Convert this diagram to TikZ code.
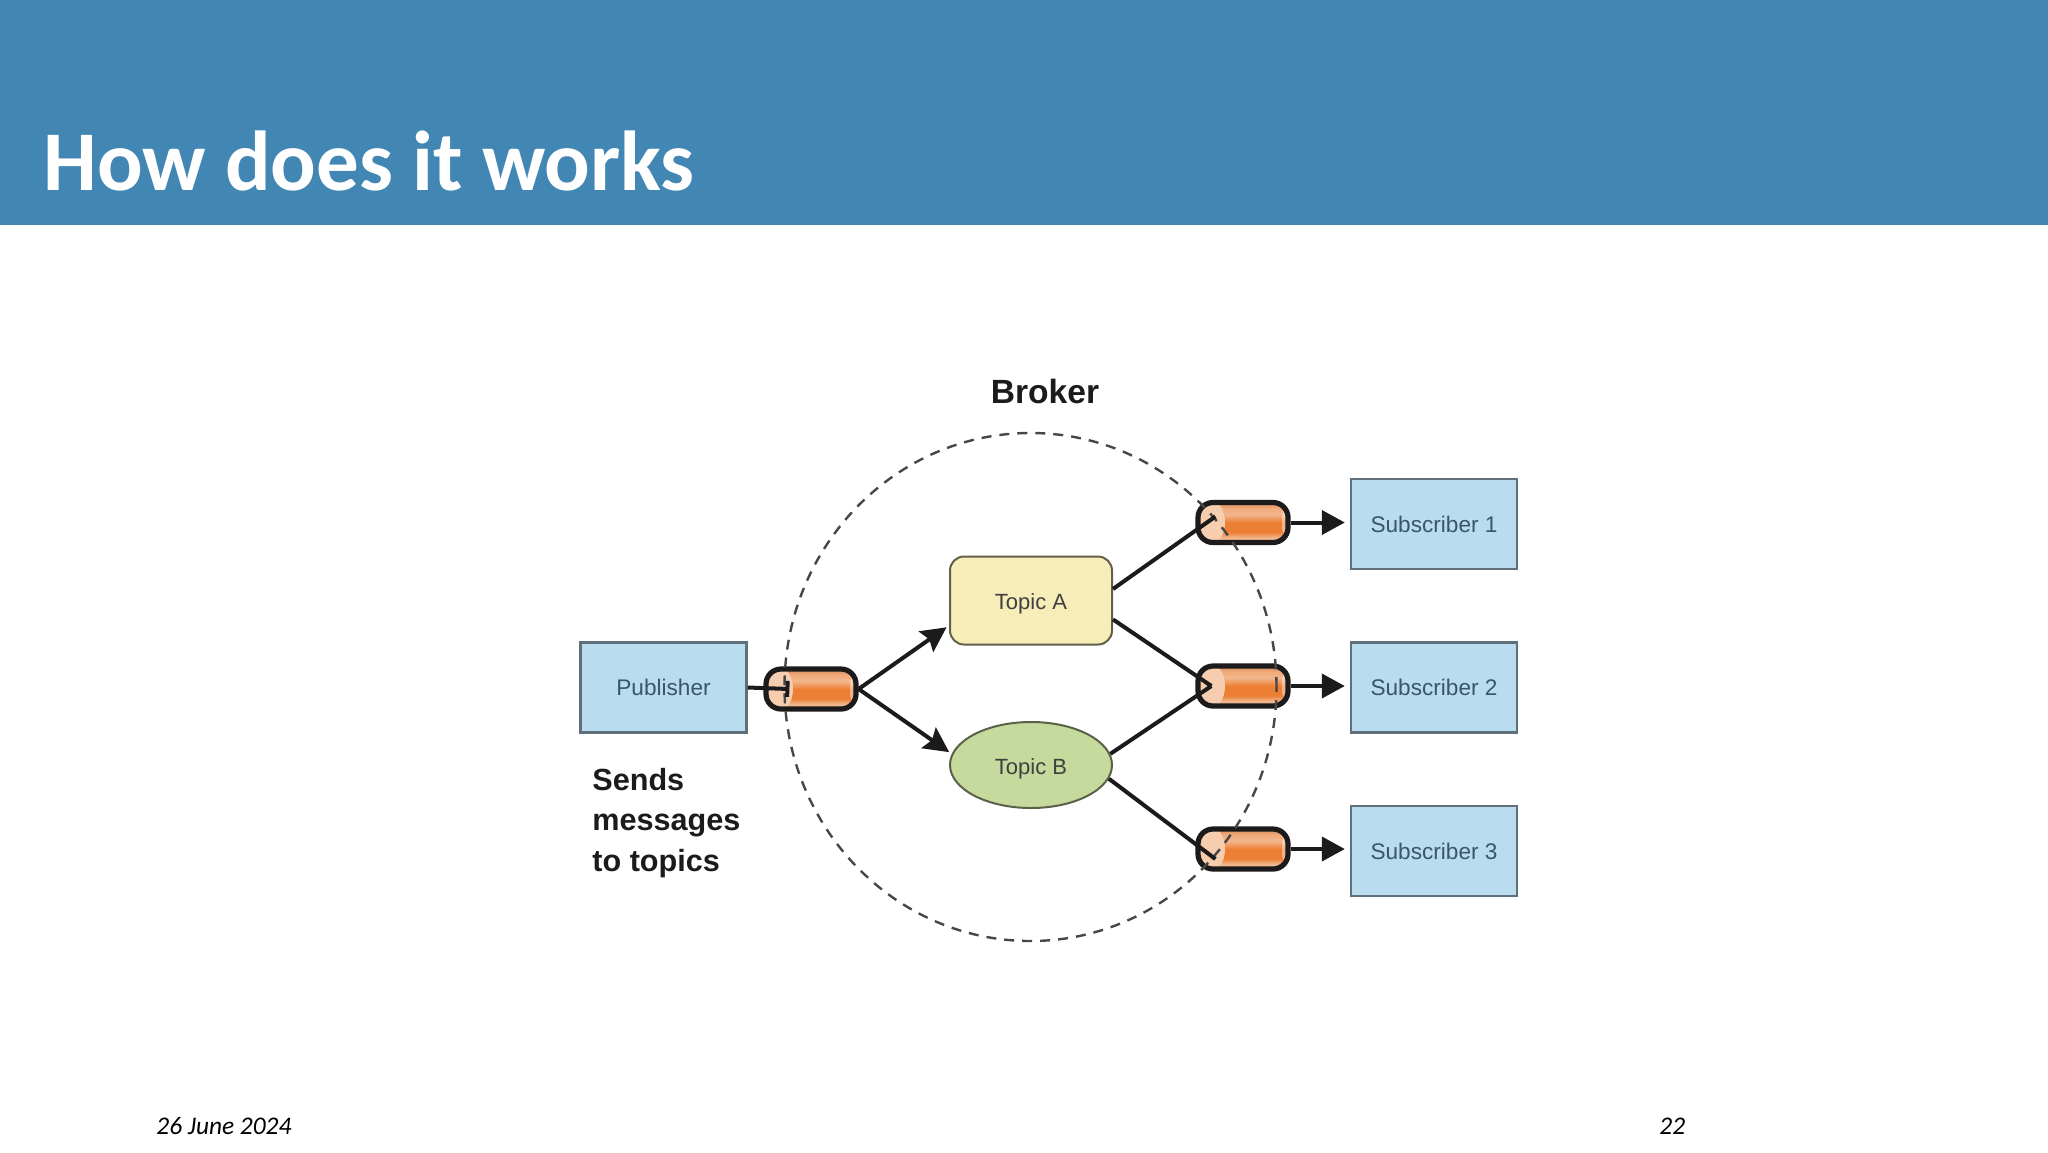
\documentclass[tikz,border=0pt]{standalone}
\usepackage{fontspec}
\setmainfont{Liberation Sans}
\newfontfamily\slidefont{Carlito}
\usetikzlibrary{arrows.meta,shapes.geometric}
\newcommand{\pxunit}{0.5pt}
\definecolor{bandblue}{HTML}{4287B3}
\definecolor{boxblue}{HTML}{B9DCEE}
\definecolor{boxedge}{HTML}{5F6F7B}
\definecolor{boxtext}{HTML}{3A5668}
\definecolor{topicyellow}{HTML}{F6EDB8}
\definecolor{topicgreen}{HTML}{C6DA9E}
\definecolor{pipecap}{HTML}{F6CDAE}
\definecolor{pipepale}{HTML}{F2B68C}
\definecolor{pipedeep}{HTML}{EC7F34}
\definecolor{pipeedge}{HTML}{D08A58}
\definecolor{inkblack}{HTML}{1C1A1A}
\pgfdeclareverticalshading{pipeshade}{100bp}{
  color(0bp)=(pipeedge);
  color(25bp)=(pipepale);
  color(31bp)=(pipepale);
  color(38bp)=(pipedeep);
  color(50bp)=(pipedeep);
  color(60bp)=(pipepale);
  color(68bp)=(pipepale!80!pipedeep);
  color(75bp)=(pipeedge);
  color(100bp)=(pipeedge)}
\tikzset{
    boxsty/.style={draw=boxedge,fill=boxblue,line width=1.2pt,rectangle,minimum width=83pt,minimum height=45pt,text=boxtext,font=\fontsize{11.3}{13}\selectfont},
    topicasty/.style={draw=black!60!topicyellow,fill=topicyellow,line width=1pt,rectangle,rounded corners=7pt,minimum width=81pt,minimum height=44pt,font=\fontsize{11}{13}\selectfont,text=black!75},
    topicbsty/.style={draw=black!55!topicgreen,fill=topicgreen,line width=1pt,ellipse,inner sep=0pt,minimum width=81pt,minimum height=43pt,font=\fontsize{11}{13}\selectfont,text=black!75},
    pipesty/.style={draw=inkblack,line width=2.6pt,rectangle,rounded corners=7.5pt,minimum width=45pt,minimum height=20pt,inner sep=0pt,shading=pipeshade,
      path picture={
        \fill[white,opacity=.4] ([xshift=-3pt]path picture bounding box.north east) rectangle (path picture bounding box.south east);
        \fill[pipecap] ([xshift=6.5pt]path picture bounding box.west) ellipse [x radius=7pt,y radius=11pt];
      }},
    ringsty/.style={draw=black!72,line width=1.2pt,ellipse,inner sep=0pt,minimum width=246pt,minimum height=254pt,dash pattern=on 5pt off 4pt},
    linksty/.style={draw=inkblack,line width=2pt},
    arrowsty/.style={linksty,-{Stealth[length=12.5pt,width=12.5pt,inset=2pt]},shorten >=1.5pt},
    sarrowsty/.style={linksty,-{Triangle[length=11.5pt,width=12pt]},shorten >=2.5pt},
    lblsty/.style={font=\bfseries\fontsize{15.3}{20.25}\selectfont,text=inkblack},
}

\begin{document}
\begin{tikzpicture}[x=\pxunit,y=-\pxunit]
\useasboundingbox (0,0) rectangle (2048,1152);
\fill[bandblue] (0,0) rectangle (2048,224.5);
\node[anchor=base west,inner sep=0pt,text=white,font=\slidefont\bfseries\fontsize{42.5}{50}\selectfont] (title) at (43,190) {How does it works};

\node[lblsty,font=\bfseries\fontsize{16.8}{20}\selectfont] (broker) at (1045,391) {Broker};
\node[lblsty,anchor=west,align=left,inner sep=0pt] (sends) at (592,823) {Sends\\messages\\to topics};

% boxes
\node[boxsty] (pub) at (663.5,687.5) {Publisher};
\node[boxsty] (sub1) at (1434,524) {Subscriber 1};
\node[boxsty] (sub2) at (1434,687.5) {Subscriber 2};
\node[boxsty] (sub3) at (1434,851) {Subscriber 3};
\node[topicasty,text height=9pt,text depth=0pt] (topica) at (1031,600.5) {Topic A};
\node[topicbsty,text height=9pt,text depth=0pt] (topicb) at (1031,765) {Topic B};

% pipes
\node[pipesty] (pipe0) at (811,689) {};
\node[pipesty] (pipe1) at (1243,522.5) {};
\node[pipesty] (pipe2) at (1243,686) {};
\node[pipesty] (pipe3) at (1243,849) {};
\node[ringsty] (ring) at (1030.5,687) {};

\coordinate (pipe0in) at ([xshift=13pt]pipe0.west);
\coordinate (pipe1in) at ([xshift=10pt,yshift=3pt]pipe1.west);
\coordinate (pipe2in) at ([xshift=8pt]pipe2.west);
\coordinate (pipe3in) at ([xshift=10pt,yshift=-5pt]pipe3.west);

% connectors
\draw[linksty,-{Bar[width=8pt,length=1pt]}] (pub.east) -- (pipe0in);
\draw[arrowsty] (pipe0.east) -- (topica.197);
\draw[arrowsty] (pipe0.east) -- (topicb.172);
\draw[linksty] (topica.8) -- (pipe1in);
\draw[linksty] (topica.-13) -- (pipe2in);
\draw[linksty] (topicb.8) -- (pipe2in);
\draw[linksty] (topicb.-10) -- (pipe3in);
\draw[sarrowsty] (pipe1.east) -- (pipe1.east -| sub1.west);
\draw[sarrowsty] (pipe2.east) -- (pipe2.east -| sub2.west);
\draw[sarrowsty] (pipe3.east) -- (pipe3.east -| sub3.west);

% footer
\node[anchor=west,inner sep=0pt,font=\slidefont\itshape\fontsize{12.7}{15}\selectfont] (date) at (156,1126) {26 June 2024};
\node[anchor=west,inner sep=0pt,font=\slidefont\itshape\fontsize{12.7}{15}\selectfont] (page) at (1659,1126) {22};
\end{tikzpicture}
\end{document}
